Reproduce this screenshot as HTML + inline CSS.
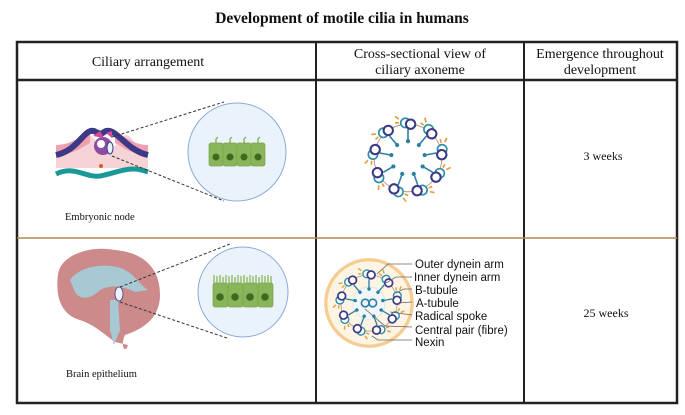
<!DOCTYPE html>
<html><head><meta charset="utf-8"><style>
html,body{margin:0;padding:0;background:#fff;}
svg{display:block;}
.t{font-family:"Liberation Serif",serif;fill:#111;}
.s{font-family:"Liberation Sans",sans-serif;fill:#111;font-size:11.5px;}
</style></head><body>
<svg width="685" height="415" viewBox="0 0 685 415" xmlns="http://www.w3.org/2000/svg">
<text x="342" y="23" text-anchor="middle" class="t" font-size="15.5" font-weight="bold">Development of motile cilia in humans</text>
<rect x="17" y="42" width="660" height="361" fill="none" stroke="#222" stroke-width="2.5"/>
<line x1="17" y1="80" x2="677" y2="80" stroke="#222" stroke-width="2.5"/>
<line x1="316" y1="42" x2="316" y2="403" stroke="#222" stroke-width="2"/>
<line x1="524" y1="42" x2="524" y2="403" stroke="#222" stroke-width="2"/>
<line x1="17" y1="238" x2="677" y2="238" stroke="#b08850" stroke-width="1.5"/>
<text x="148" y="66" text-anchor="middle" class="t" font-size="14">Ciliary arrangement</text>
<text x="420" y="58" text-anchor="middle" class="t" font-size="14">Cross-sectional view of</text>
<text x="420" y="74" text-anchor="middle" class="t" font-size="14">ciliary axoneme</text>
<text x="600" y="58" text-anchor="middle" class="t" font-size="14">Emergence throughout</text>
<text x="600" y="74" text-anchor="middle" class="t" font-size="14">development</text>
<text x="603" y="160" text-anchor="middle" class="t" font-size="12">3 weeks</text>
<text x="606" y="317" text-anchor="middle" class="t" font-size="12">25 weeks</text>
<text x="65" y="220" class="t" font-size="10.5">Embryonic node</text>
<text x="66" y="377" class="t" font-size="10.5">Brain epithelium</text>

<path d="M56,155 C80,150 85,125 95,140 C100,150 115,150 120,140 C130,125 135,150 148,155 L148,168 L56,168Z" fill="#f6d3d6"/>
<path d="M56,150 C75,150 85,138 90,138" fill="none" stroke="#f0a0b0" stroke-width="10"/>
<path d="M148,150 C130,150 120,138 115,138" fill="none" stroke="#f0a0b0" stroke-width="10"/>
<path d="M56,155 C80,150 85,125 96,132 C100,134 102,134 104,132 C115,125 125,150 148,155" fill="none" stroke="#3c3a86" stroke-width="6"/>
<path d="M56,174 C75,165 85,178 100,176 C120,172 130,165 148,172" fill="none" stroke="#1a9898" stroke-width="5"/>
<circle cx="103" cy="146" r="9" fill="#8a4da0"/>
<circle cx="101" cy="144" r="4" fill="#fff"/>
<path d="M93,136 L100,131 L104,138 Z" fill="#d44b9a"/>
<path d="M106,133 L112,131 L112,138 Z" fill="#d44b9a"/>
<ellipse cx="110" cy="148" rx="3" ry="6" fill="#eaf2ff" stroke="#3c3a86"/>
<circle cx="101" cy="166" r="2" fill="#d06020"/>
<line x1="112" y1="137" x2="224" y2="102" stroke="#333" stroke-dasharray="3,2"/>
<line x1="112" y1="156" x2="224" y2="201" stroke="#333" stroke-dasharray="3,2"/>
<circle cx="237" cy="152" r="49" fill="#eaf2fc" stroke="#8aaad8"/>
<g fill="#8ab55a" stroke="#7aa54a" stroke-width="0.7">
<rect x="209" y="143" width="14" height="23" rx="2"/><rect x="223" y="143" width="14" height="23" rx="2"/>
<rect x="237" y="143" width="14" height="23" rx="2"/><rect x="251" y="143" width="14" height="23" rx="2"/>
</g>
<g fill="#3e6a20"><circle cx="216" cy="157" r="3.5"/><circle cx="230" cy="157" r="3.5"/><circle cx="244" cy="157" r="3.5"/><circle cx="258" cy="157" r="3.5"/></g>
<g stroke="#7aa54a" fill="none" stroke-width="1.2"><path d="M216,143 l0,-4 l2,-2"/><path d="M230,143 l0,-4 l2,-2"/><path d="M244,143 l0,-4 l2,-2"/><path d="M258,143 l0,-4 l2,-2"/></g>

<path d="M58,275 C60,255 90,245 115,250 C140,252 160,265 160,295 C160,320 140,330 125,335 C120,345 125,355 128,345 L115,342 C105,335 95,325 80,320 C62,315 55,298 58,275Z" fill="#cc8a8a"/>
<path d="M70,280 C80,265 110,262 125,270 C135,275 140,285 148,290 L135,292 C120,285 110,285 100,290 C90,300 80,300 75,292Z" fill="#a8c8d4"/>
<path d="M110,300 L118,300 L120,330 L114,345 L110,330Z" fill="#a8c8d4"/>
<ellipse cx="119" cy="294" rx="4" ry="7" fill="#eaf2ff" stroke="#3c3a86" stroke-width="0.8"/>
<line x1="120" y1="287" x2="230" y2="244" stroke="#333" stroke-dasharray="3,2"/>
<line x1="120" y1="302" x2="227" y2="338" stroke="#333" stroke-dasharray="3,2"/>
<circle cx="243" cy="292" r="45" fill="#eaf2fc" stroke="#8aaad8"/>
<g fill="#8ab55a" stroke="#7aa54a" stroke-width="0.7">
<rect x="213" y="283" width="15" height="24" rx="2"/><rect x="228" y="283" width="15" height="24" rx="2"/>
<rect x="243" y="283" width="15" height="24" rx="2"/><rect x="258" y="283" width="15" height="24" rx="2"/>
</g>
<g stroke="#8ab55a" stroke-width="1.3"><path d="M214,283 v-8 M217,283 v-7 M220,283 v-8 M223,283 v-6 M226,283 v-8 M229,283 v-7 M232,283 v-8 M235,283 v-6 M238,283 v-8 M241,283 v-7 M244,283 v-8 M247,283 v-6 M250,283 v-8 M253,283 v-7 M256,283 v-8 M259,283 v-6 M262,283 v-8 M265,283 v-7 M268,283 v-8 M271,283 v-7"/></g>
<g fill="#3e6a20"><circle cx="220" cy="297" r="3.8"/><circle cx="235" cy="297" r="3.8"/><circle cx="250" cy="297" r="3.8"/><circle cx="265" cy="297" r="3.8"/></g>

<g transform="translate(408,158) scale(1.3)">
<circle r="26" fill="none" stroke="#b08070" stroke-width="0.6"/>
<g id="dbl">
<g><line x1="0" y1="-22" x2="0" y2="-14" stroke="#2a7fa0" stroke-width="1.2"/><circle cx="0" cy="-13" r="1.6" fill="#2a7fa0"/><circle cx="-2" cy="-27" r="3.6" fill="#fff" stroke="#2a8fa8" stroke-width="1.3"/><circle cx="2" cy="-26" r="3.6" fill="#fff" stroke="#3c3a86" stroke-width="1.6"/><path d="M-7,-30 l-3,-2 M-7,-27 l-3,0" stroke="#e0a040" stroke-width="1.3"/></g>
</g>
<use href="#dbl" transform="rotate(40)"/><use href="#dbl" transform="rotate(80)"/><use href="#dbl" transform="rotate(120)"/><use href="#dbl" transform="rotate(160)"/><use href="#dbl" transform="rotate(200)"/><use href="#dbl" transform="rotate(240)"/><use href="#dbl" transform="rotate(280)"/><use href="#dbl" transform="rotate(320)"/>
</g>

<g transform="translate(369,303) scale(1.08)">
<circle r="40" fill="#fdf4e4" stroke="#f6cc90" stroke-width="3"/>
<circle r="15" fill="#f2f6f8" stroke="#d8e4ea" stroke-width="0.8"/>
<circle r="26" fill="none" stroke="#b08070" stroke-width="0.6"/>
<use href="#dbl"/><use href="#dbl" transform="rotate(40)"/><use href="#dbl" transform="rotate(80)"/><use href="#dbl" transform="rotate(120)"/><use href="#dbl" transform="rotate(160)"/><use href="#dbl" transform="rotate(200)"/><use href="#dbl" transform="rotate(240)"/><use href="#dbl" transform="rotate(280)"/><use href="#dbl" transform="rotate(320)"/>
<circle cx="-3.5" cy="0" r="3.5" fill="none" stroke="#2a7fa8" stroke-width="1.5"/>
<circle cx="3.5" cy="0" r="3.5" fill="none" stroke="#2a7fa8" stroke-width="1.5"/>
</g>
<g stroke="#666" stroke-width="0.8" fill="none">
<path d="M377,274 L388,264 L412,264"/>
<path d="M386,283 L396,277 L412,277"/>
<path d="M396,293 L404,289 L412,289"/>
<path d="M398,303 L412,302"/>
<path d="M390,312 L412,315"/>
<path d="M365,309 L385,326 L412,327"/>
<path d="M372,336 L378,340 L412,340"/>
</g>
<text x="415" y="268" class="s">Outer dynein arm</text>
<text x="414" y="281" class="s">Inner dynein arm</text>
<text x="415" y="294" class="s">B-tubule</text>
<text x="416" y="307" class="s">A-tubule</text>
<text x="415" y="320" class="s">Radical spoke</text>
<text x="415" y="334" class="s">Central pair (fibre)</text>
<text x="415" y="346" class="s">Nexin</text>
</svg>
</body></html>
